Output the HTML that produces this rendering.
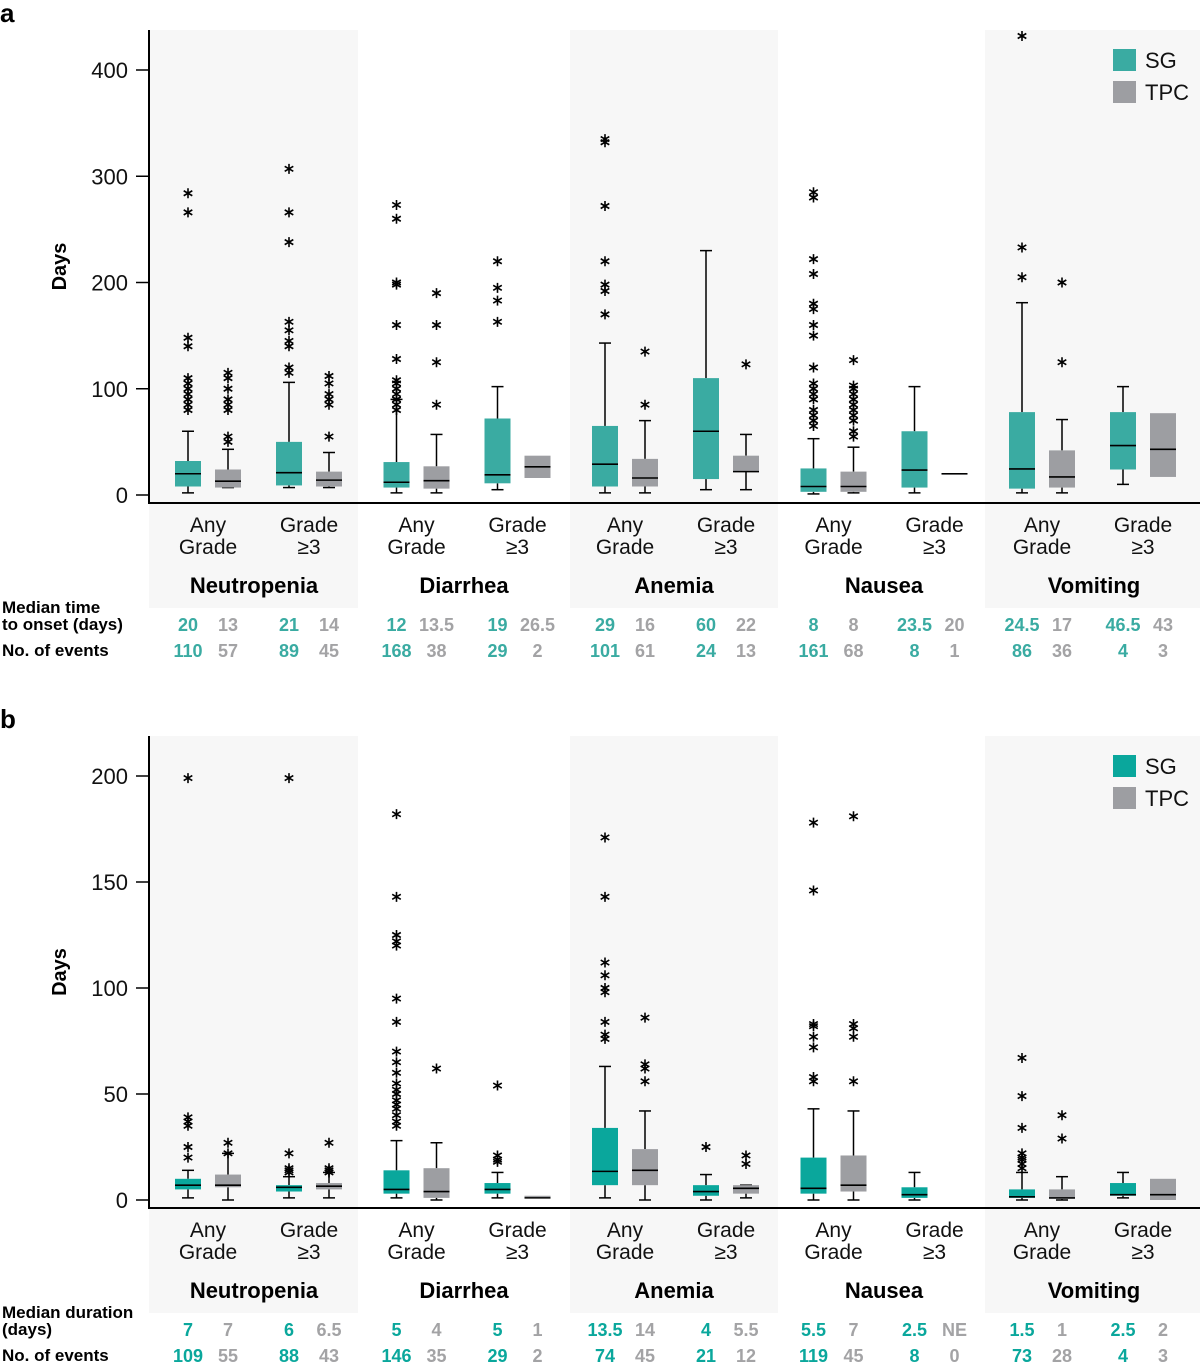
<!DOCTYPE html>
<html><head><meta charset="utf-8"><style>
body{margin:0;background:#fff}
svg{display:block;font-family:"Liberation Sans",Arial,sans-serif}
</style></head><body>
<svg id="chart" width="1200" height="1363" viewBox="0 0 1200 1363" xmlns="http://www.w3.org/2000/svg"></svg>
<script>
// ===== Data =====
const groups = ["Neutropenia","Diarrhea","Anemia","Nausea","Vomiting"];
const subcats = ["Any|Grade","Grade|≥3"];
const seriesNames = ["SG","TPC"];
const aTicks = [0,100,200,300,400];
const bTicks = [0,50,100,150,200];
// box order: per group: AnyGrade SG, AnyGrade TPC, G3 SG, G3 TPC
const aQ1  = [8,7,9,8, 7,6,11,16, 8,8,15,22, 3,3,7,20, 6,7,24,17];
const aMed = [20,13,21,14, 12,13.5,19,26.5, 29,16,60,22, 8,8,23.5,20, 24.5,17,46.5,43];
const aQ3  = [32,24,50,22, 31,27,72,37, 65,34,110,37, 25,22,60,20, 78,42,78,77];
const aLo  = [2,7,7,7, 2,2,5,null, 2,2,5,5, 1,2,2,null, 2,2,10,null];
const aHi  = [60,43,106,40, 90,57,102,null, 143,70,230,57, 53,45,102,null, 181,71,102,null];
const aOut = [
 [284,266,148,140,110,105,100,95,90,85,80],[115,110,100,90,85,80,55,50],
 [307,266,238,163,155,145,140,120,115],[112,105,95,90,85,55],
 [273,260,200,198,160,128,108,105,100,95,90,85,80],[190,160,125,85],
 [220,195,183,163],[],
 [335,332,272,220,198,192,170],[135,85],[],[123],
 [285,280,222,208,180,175,160,150,120,105,100,95,90,80,75,70,65],[127,103,100,95,90,85,80,75,70,60,55],[],[],
 [432,233,205],[200,125],[],[]
];
const aMedianLabels = ["20","13","21","14","12","13.5","19","26.5","29","16","60","22","8","8","23.5","20","24.5","17","46.5","43"];
const aEvents = ["110","57","89","45","168","38","29","2","101","61","24","13","161","68","8","1","86","36","4","3"];

const bQ1  = [5,6,4,5, 3,1,3,1, 7,7,2,3, 3,4,1,null, 1,0.5,2,0];
const bMed = [7,7,6,6.5, 5,4,5,1, 13.5,14,4,5.5, 5.5,7,2.5,null, 1.5,1,2.5,2.5];
const bQ3  = [10,12,7,8, 14,15,8,2, 34,24,7,7, 20,21,6,null, 5,5,8,10];
const bLo  = [1,0,1,1, 1,0,1,null, 1,0,0,1, 0,0,0,null, 0,0,1,null];
const bHi  = [14,22,11,13, 28,27,13,null, 63,42,12,7, 43,42,13,null, 13,11,13,null];
const bOut = [
 [199,39,37,35,25,20],[27,22],[199,22,15,14,13],[27,15,14,13],
 [182,143,125,122,120,95,84,70,65,60,55,52,50,47,45,43,40,37,35],[62],[54,21,19,18],[],
 [171,143,112,106,100,98,84,78,76],[86,64,62,56],[25],[21,17],
 [178,146,83,82,77,72,58,56],[181,83,81,77,56],[],[],
 [67,49,34,22,20,19,17,15],[40,29],[],[]
];
const bMedianLabels = ["7","7","6","6.5","5","4","5","1","13.5","14","4","5.5","5.5","7","2.5","NE","1.5","1","2.5","2"];
const bEvents = ["109","55","88","43","146","35","29","2","74","45","21","12","119","45","8","0","73","28","4","3"];

// ===== Drawing =====
const svg = document.getElementById('chart');
const NS = "http://www.w3.org/2000/svg";
function mk(tag, attrs, parent){const e=document.createElementNS(NS,tag);for(const k in attrs)e.setAttribute(k,attrs[k]);(parent||svg).appendChild(e);return e;}
const shadeStarts = [149,358,570,778,985,1200];
const groupCenter = g => 254 + g*210;
const offsets = [0,40,101,141];
const boxX = i => 188 + Math.floor(i/4)*208.5 + offsets[i%4];

function panel(cfg){
  const {top,zeroY,scale,ticks,q1,med,q3,lo,hi,out,medLbl,ev,sgColor,letter,rowLabel1,rowLabel2,axisBottom,prefix} = cfg;
  const y = v => zeroY - v*scale;
  const shadeBottom = axisBottom + 105;
  const g = mk('g',{});
  
  
  [0,2,4].forEach(gi=>{
    const r = mk('rect',{x:shadeStarts[gi],y:top,width:shadeStarts[gi+1]-shadeStarts[gi],height:shadeBottom-top,fill:'#f7f7f7'},g);
    
    
  });
  const l = mk('text',{x:0,y:top-8,'font-size':26,'font-weight':'bold',fill:'#000'},g);
  l.textContent=letter;
  
  
  const ax = mk('path',{d:`M149 ${top} V${axisBottom} H1200`,stroke:'#000','stroke-width':2,fill:'none'},g);
  
  
  ticks.forEach(t=>{
    mk('line',{x1:136,x2:149,y1:y(t),y2:y(t),stroke:'#000','stroke-width':1.5},g);
    const tt = mk('text',{x:128,y:y(t)+8,'font-size':22,'text-anchor':'end',fill:'#111'},g);
    tt.textContent=t;
    
    
  });
  const yt = mk('text',{transform:`translate(66 ${(top+axisBottom)/2}) rotate(-90)`,'font-size':20,'font-weight':'bold','text-anchor':'middle'},g);
  yt.textContent='Days';
  
  
  for(let i=0;i<20;i++){
    const cx = boxX(i), col = (i%2===0)?sgColor:'#9d9ea2';
    const bg = mk('g',{},g);
    
    
    if(hi[i]!=null){
      mk('line',{x1:cx,x2:cx,y1:y(hi[i]),y2:y(q3[i]),stroke:'#000','stroke-width':1.5},bg);
      mk('line',{x1:cx-6,x2:cx+6,y1:y(hi[i]),y2:y(hi[i]),stroke:'#000','stroke-width':1.5},bg);
    }
    if(lo[i]!=null){
      mk('line',{x1:cx,x2:cx,y1:y(q1[i]),y2:y(lo[i]),stroke:'#000','stroke-width':1.5},bg);
      mk('line',{x1:cx-6,x2:cx+6,y1:y(lo[i]),y2:y(lo[i]),stroke:'#000','stroke-width':1.5},bg);
    }
    if(q1[i]!=null){
      mk('rect',{x:cx-13,y:y(q3[i]),width:26,height:Math.max(1,y(q1[i])-y(q3[i])),fill:col},bg);
      mk('line',{x1:cx-13,x2:cx+13,y1:y(med[i]),y2:y(med[i]),stroke:'#000','stroke-width':1.6},bg);
    }
    out[i].forEach(v=>{
      const oy=y(v);
      mk('path',{d:`M${cx} ${oy-5}V${oy+5}M${cx-4.3} ${oy-2.5}L${cx+4.3} ${oy+2.5}M${cx-4.3} ${oy+2.5}L${cx+4.3} ${oy-2.5}`,stroke:'#000','stroke-width':1.6},bg);
    });
  }
  for(let gi=0;gi<5;gi++){
    for(let s=0;s<2;s++){
      const cx=(boxX(gi*4+s*2)+boxX(gi*4+s*2+1))/2;
      const parts=subcats[s].split('|');
      parts.forEach((p,k)=>{
        const t=mk('text',{x:cx,y:axisBottom+29+k*22,'font-size':21,'text-anchor':'middle',fill:'#111'},g);
        t.textContent=p;
        
        
      });
    }
    const gt=mk('text',{x:groupCenter(gi),y:axisBottom+90,'font-size':22,'font-weight':'bold','text-anchor':'middle'},g);
    gt.textContent=groups[gi];
    
    
  }
  const r1=mk('text',{x:2,y:axisBottom+110,'font-size':17,'font-weight':'bold'},g);r1.textContent=rowLabel1;
  
  
  const r2=mk('text',{x:2,y:axisBottom+127,'font-size':17,'font-weight':'bold'},g);r2.textContent=rowLabel2;
  
  
  const r3=mk('text',{x:2,y:axisBottom+153,'font-size':17,'font-weight':'bold'},g);r3.textContent='No. of events';
  
  
  for(let i=0;i<20;i++){
    const col=(i%2===0)?sgColor:'#a3a3a5';
    const t1=mk('text',{x:boxX(i),y:axisBottom+128,'font-size':18,'font-weight':'bold','text-anchor':'middle',fill:col},g);
    t1.textContent=medLbl[i];
    
    
    const t2=mk('text',{x:boxX(i),y:axisBottom+154,'font-size':18,'font-weight':'bold','text-anchor':'middle',fill:col},g);
    t2.textContent=ev[i];
    
    
  }
  seriesNames.forEach((s,k)=>{
    const ly=top+19+k*32;
    const lr=mk('rect',{x:1113,y:ly,width:23,height:22,fill:k===0?sgColor:'#9d9ea2'},g);
    
    
    const lt=mk('text',{x:1145,y:ly+19,'font-size':22,fill:'#111'},g);
    lt.textContent=s;
    
    
  });
}
panel({prefix:'a',top:30,zeroY:495,scale:1.0625,axisBottom:503,ticks:aTicks,q1:aQ1,med:aMed,q3:aQ3,lo:aLo,hi:aHi,out:aOut,medLbl:aMedianLabels,ev:aEvents,sgColor:'#3aaba2',letter:'a',rowLabel1:'Median time',rowLabel2:'to onset (days)'});
panel({prefix:'b',top:736,zeroY:1200,scale:2.12,axisBottom:1208,ticks:bTicks,q1:bQ1,med:bMed,q3:bQ3,lo:bLo,hi:bHi,out:bOut,medLbl:bMedianLabels,ev:bEvents,sgColor:'#0aa79c',letter:'b',rowLabel1:'Median duration',rowLabel2:'(days)'});
</script>
</body></html>
